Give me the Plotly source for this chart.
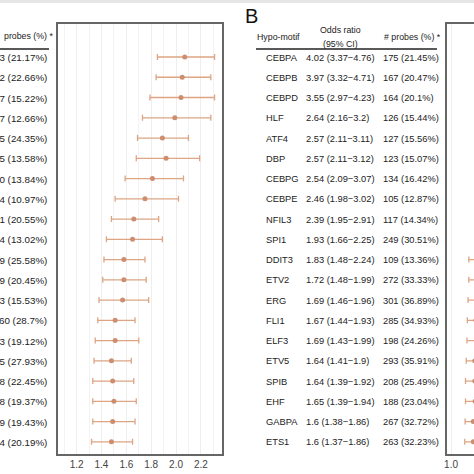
import plotly.graph_objects as go

W = H = 474
# Left panel (A) data
left_or = [2.07, 2.05, 2.04, 1.99, 1.89, 1.92, 1.81, 1.75, 1.66, 1.65,
           1.58, 1.58, 1.57, 1.51, 1.51, 1.48, 1.49, 1.50, 1.49, 1.48]
left_lo = [1.85, 1.84, 1.79, 1.73, 1.69, 1.68, 1.59, 1.51, 1.48, 1.44,
           1.42, 1.41, 1.38, 1.37, 1.35, 1.34, 1.33, 1.33, 1.33, 1.32]
left_hi = [2.31, 2.28, 2.31, 2.28, 2.10, 2.19, 2.06, 2.02, 1.86, 1.89,
           1.75, 1.76, 1.78, 1.67, 1.70, 1.64, 1.66, 1.68, 1.67, 1.65]
left_probes = ["13 (21.17%)", "42 (22.66%)", "97 (15.22%)", "47 (12.66%)", "75 (24.35%)",
               "55 (13.58%)", "70 (13.84%)", "14 (10.97%)", "01 (20.55%)", "54 (13.02%)",
               "99 (25.58%)", "99 (20.45%)", "03 (15.53%)", "60 (28.7%)", "73 (19.12%)",
               "45 (27.93%)", "38 (22.45%)", "78 (19.37%)", "79 (19.43%)", "94 (20.19%)"]
left_ticks = [1.2, 1.4, 1.6, 1.8, 2.0, 2.2]

# Right panel (B) data
motifs = ["CEBPA", "CEBPB", "CEBPD", "HLF", "ATF4", "DBP", "CEBPG", "CEBPE", "NFIL3", "SPI1",
          "DDIT3", "ETV2", "ERG", "FLI1", "ELF3", "ETV5", "SPIB", "EHF", "GABPA", "ETS1"]
right_or = [4.02, 3.97, 3.55, 2.64, 2.57, 2.57, 2.54, 2.46, 2.39, 1.93,
            1.83, 1.72, 1.69, 1.67, 1.69, 1.64, 1.64, 1.65, 1.6, 1.6]
right_lo = [3.37, 3.32, 2.97, 2.16, 2.11, 2.11, 2.09, 1.98, 1.95, 1.66,
            1.48, 1.48, 1.46, 1.44, 1.43, 1.41, 1.39, 1.39, 1.38, 1.37]
right_hi = [4.76, 4.71, 4.23, 3.2, 3.11, 3.12, 3.07, 3.02, 2.91, 2.25,
            2.24, 1.99, 1.96, 1.93, 1.99, 1.9, 1.92, 1.94, 1.86, 1.86]
right_probes = ["175 (21.45%)", "167 (20.47%)", "164 (20.1%)", "126 (15.44%)", "127 (15.56%)",
                "123 (15.07%)", "134 (16.42%)", "105 (12.87%)", "117 (14.34%)", "249 (30.51%)",
                "109 (13.36%)", "272 (33.33%)", "301 (36.89%)", "285 (34.93%)", "198 (24.26%)",
                "293 (35.91%)", "208 (25.49%)", "188 (23.04%)", "267 (32.72%)", "263 (32.23%)"]

rows = list(range(1, 21))
px = lambda x: x / W
py = lambda y: 1 - y / H
BAR = "#DDA584"
PT = "#CC8E6E"
FONT = "Liberation Sans"

fig = go.Figure()
fig.add_trace(go.Scatter(
    x=left_or, y=rows, mode="markers", xaxis="x", yaxis="y",
    marker=dict(color=PT, size=5),
    error_x=dict(type="data", symmetric=False,
                 array=[h - o for h, o in zip(left_hi, left_or)],
                 arrayminus=[o - l for o, l in zip(left_or, left_lo)],
                 color=BAR, thickness=1.3, width=3)))
fig.add_trace(go.Scatter(
    x=right_or, y=rows, mode="markers", xaxis="x2", yaxis="y2",
    marker=dict(color=PT, size=5),
    error_x=dict(type="data", symmetric=False,
                 array=[h - o for h, o in zip(right_hi, right_or)],
                 arrayminus=[o - l for o, l in zip(right_or, right_lo)],
                 color=BAR, thickness=1.3, width=3)))

yr = [20.6, -0.63]
ydom = [py(454), py(24)]
axis_common = dict(showline=True, linecolor="#666", linewidth=1.5, mirror=True, automargin=False,
                   zeroline=False, ticks="", tickfont=dict(family=FONT, size=10, color="#444"))
fig.update_layout(
    width=W, height=H, margin=dict(l=0, r=0, t=0, b=0, autoexpand=False),
    paper_bgcolor="white", plot_bgcolor="white", showlegend=False,
    font=dict(family=FONT, size=10, color="#222"),
    xaxis=dict(domain=[px(58), px(222)], range=[1.05, 2.37], tickvals=left_ticks,
               ticktext=[f"{t:.1f}" for t in left_ticks], showgrid=True, gridcolor="#eeeeee",
               minor=dict(dtick=0.1, showgrid=True, gridcolor="#f3f3f3"), **axis_common),
    yaxis=dict(domain=ydom, range=yr, showticklabels=False, showgrid=False, **axis_common),
    xaxis2=dict(domain=[px(447), 1.0], range=[0.89, 1.62], tickvals=[1.0], ticktext=["1.0"],
                showgrid=True, gridcolor="#eeeeee", anchor="y2", **axis_common),
    yaxis2=dict(domain=ydom, range=yr, showticklabels=False, showgrid=False, anchor="x2", **axis_common),
)

ann = []
def T(x, y, s, anchor="left", size=9.3):
    ann.append(dict(x=px(x), y=py(y), xref="paper", yref="paper", text=s, showarrow=False,
                    xanchor=anchor, yanchor="middle", font=dict(family=FONT, size=size, color="#222")))

row_y = lambda i: 57.5 + i * 20.26
for i in range(20):
    T(49, row_y(i), left_probes[i], "right", 9.8)
    T(264, row_y(i), motifs[i], "left")
    T(304, row_y(i), f"{right_or[i]} ({right_lo[i]}\u2212{right_hi[i]})", "left")
    T(381, row_y(i), right_probes[i], "left")
T(55, 36, "probes (%) *", "right", 8.8)
T(278, 37, "Hypo-motif", "center", 8.8)
T(340, 30, "Odds ratio", "center", 8.8)
T(340, 44, "(95% CI)", "center", 8.8)
T(412, 37, "# probes (%) *", "center", 8.8)
ann.append(dict(x=px(243), y=py(16), xref="paper", yref="paper", text="B", showarrow=False,
                xanchor="left", yanchor="middle", font=dict(family=FONT, size=20, color="#111")))
fig.update_layout(annotations=ann)

fig.add_shape(type="line", xref="paper", yref="paper", x0=0, x1=px(49), y0=py(49), y1=py(49),
              line=dict(color="#222", width=1.5))
fig.add_shape(type="line", xref="paper", yref="paper", x0=px(256), x1=px(437), y0=py(49), y1=py(49),
              line=dict(color="#222", width=1.5))
fig.add_shape(type="rect", xref="paper", yref="paper", x0=0, x1=1, y0=py(3), y1=1,
              fillcolor="#e6e6e6", line=dict(width=0))

fig.write_html("out.html", config={"displayModeBar": False},
               post_script="document.body.style.margin='0';document.body.style.overflow='hidden';")
